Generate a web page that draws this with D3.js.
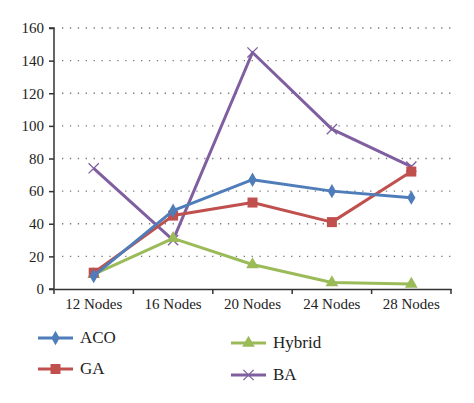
<!DOCTYPE html>
<html><head><meta charset="utf-8">
<script src="https://cdn.jsdelivr.net/npm/d3@7"></script>
<style>body{margin:0;background:#fff}svg{display:block}</style>
</head><body>
<script>
const categories = ["12 Nodes","16 Nodes","20 Nodes","24 Nodes","28 Nodes"];
const seriesNames = ["ACO","GA","Hybrid","BA"];
const aco = [8,48,67,60,56];
const ga = [10,45,53,41,72];
const hybrid = [9,31,15,4,3];
const ba = [74,30,145,98,75];
const yTicks = [0,20,40,60,80,100,120,140,160];

const FONT = "Times New Roman, Times, Tinos, serif";
const W=474,H=403;
const svg=d3.select("body").append("svg").attr("width",W).attr("height",H);
const x=d3.scaleBand().domain(categories).range([54,451]);
const y=d3.scaleLinear().domain([0,160]).range([289,28]);

svg.append("g").selectAll("line").data(yTicks.filter(d=>d>0)).join("line")
  .attr("x1",62).attr("x2",451).attr("y1",d=>y(d)).attr("y2",d=>y(d))
  .attr("stroke","#777").attr("stroke-width",1.3).attr("stroke-dasharray","1.3,6.6");

const ya=svg.append("g").attr("transform","translate(54,0)")
  .call(d3.axisLeft(y).tickValues(yTicks).tickSize(5).tickPadding(5));
const xa=svg.append("g").attr("transform","translate(0,289)")
  .call(d3.axisBottom(x).tickSize(0).tickPadding(9));
svg.append("g").selectAll("line").data(categories.concat([null])).join("line")
  .attr("x1",(d,i)=>54+i*x.step()).attr("x2",(d,i)=>54+i*x.step())
  .attr("y1",289).attr("y2",294).attr("stroke","#333").attr("stroke-width",1.5);
[ya,xa].forEach(a=>{a.attr("font-family",FONT).attr("font-size",15);
  a.selectAll("path").attr("stroke","#333").attr("stroke-width",1.5);
  a.selectAll("line").attr("stroke","#333").attr("stroke-width",1.5);
  a.selectAll("text").attr("fill","#222");});
ya.select(".domain").attr("d","M0,"+y(0)+"V"+y(160)+"H-5M0,"+y(0)+"H-5");

const colors={ACO:"#4F7DBA",GA:"#C0504D",Hybrid:"#9BBB59",BA:"#7F5FA0"};
const data={ACO:aco,GA:ga,Hybrid:hybrid,BA:ba};
const line=d3.line().x((d,i)=>x(categories[i])+x.bandwidth()/2).y(d=>y(d));

function marker(g,name,cx,cy){
  const c=colors[name];
  if(name==="ACO") g.append("path").attr("d",d3.symbol(d3.symbolDiamond,60)()).attr("transform",`translate(${cx},${cy})`).attr("fill",c);
  else if(name==="GA") g.append("rect").attr("x",cx-5).attr("y",cy-5).attr("width",10).attr("height",10).attr("fill",c);
  else if(name==="Hybrid") g.append("path").attr("d",d3.symbol(d3.symbolTriangle,70)()).attr("transform",`translate(${cx},${cy})`).attr("fill",c);
  else g.append("path").attr("d",d3.symbol(d3.symbolX,70)()).attr("transform",`translate(${cx},${cy})`).attr("fill","none").attr("stroke",c).attr("stroke-width",1.3);
}

["BA","Hybrid","GA","ACO"].forEach(name=>{
  const g=svg.append("g");
  g.append("path").datum(data[name]).attr("d",line).attr("fill","none")
    .attr("stroke",colors[name]).attr("stroke-width",3).attr("stroke-linejoin","round");
  data[name].forEach((v,i)=>marker(g,name,x(categories[i])+x.bandwidth()/2,y(v)));
});

const leg=[{n:"ACO",x:38,y:338},{n:"GA",x:38,y:369},{n:"Hybrid",x:231,y:343},{n:"BA",x:231,y:375}];
leg.forEach(l=>{
  const g=svg.append("g");
  g.append("line").attr("x1",l.x).attr("x2",l.x+35).attr("y1",l.y).attr("y2",l.y)
    .attr("stroke",colors[l.n]).attr("stroke-width",3);
  marker(g,l.n,l.x+17.5,l.y);
  g.append("text").attr("x",l.x+42).attr("y",l.y+5).text(l.n)
    .attr("font-family",FONT).attr("font-size",17).attr("fill","#222");
});
</script>
</body></html>
